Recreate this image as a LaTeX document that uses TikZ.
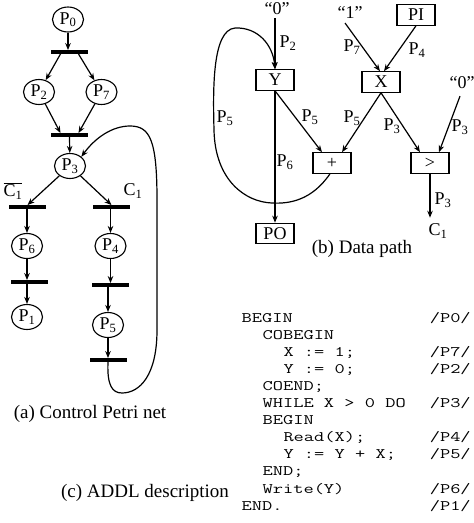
\documentclass[tikz,border=0pt]{standalone}
\usepackage{fontspec}
\setmainfont{Liberation Serif}
\usepackage{graphicx}
\usetikzlibrary{shapes.geometric,arrows.meta}
\newcommand\mycode[1]{\scalebox{1.37}[1]{#1}}
\begin{document}
\begin{tikzpicture}[x=1pt,y=-1pt,
  lbl/.style={font=\fontsize{18}{20}\selectfont, inner sep=0},
  place/.style={ellipse, draw, line width=1.1pt, minimum width=31pt, minimum height=25pt, inner sep=0, font=\fontsize{18}{20}\selectfont},
  trans/.style={rectangle, fill=black, minimum width=37pt, minimum height=3.5pt, inner sep=0},
  arc/.style={line width=1.2pt, -{Stealth[length=7pt,width=5.5pt]}},
  box/.style={rectangle, draw, line width=1.1pt, minimum width=38pt, minimum height=20.5pt, inner sep=0, font=\fontsize{18}{20}\selectfont},
  capt/.style={font=\fontsize{19}{21}\selectfont, inner sep=0, anchor=base},
  code/.style={anchor=base west, inner sep=0, font=\fontsize{14.5}{16}\ttfamily},
]
\useasboundingbox (0,0) rectangle (474,523);
% ---------- (a) Control Petri net
\node[place] (P0) at (68,19.5) {P\textsubscript{0}};
\node[trans] (t1) at (69.5,52) {};
\node[place] (P2) at (39,92) {P\textsubscript{2}};
\node[place] (P7) at (101.5,92) {P\textsubscript{7}};
\node[trans] (t2) at (69.5,135) {};
\node[place] (P3) at (70,166) {P\textsubscript{3}};
\node[trans] (t3) at (27.5,207) {};
\node[trans] (t4) at (111.5,207) {};
\node[place] (P6) at (27,246) {P\textsubscript{6}};
\node[place] (P4) at (110.5,246) {P\textsubscript{4}};
\node[trans] (t5) at (29.5,282) {};
\node[place] (P1) at (27,317) {P\textsubscript{1}};
\node[trans] (t6) at (110.5,285) {};
\node[place] (P5) at (108,325) {P\textsubscript{5}};
\node[trans] (t7) at (108.5,360) {};
\node[lbl] (nc1) at (13,191) {$\overline{\mbox{C\textsubscript{1}}}$};
\node[lbl] (c1) at (133,191) {C\textsubscript{1}};

\draw[arc] (P0) -- (P0 |- t1.north);
\draw[arc] ([xshift=-9pt]t1.south) -- (P2);
\draw[arc] ([xshift=9pt]t1.south) -- (P7);
\draw[arc] (P2) -- ([xshift=-9pt]t2.north);
\draw[arc] (P7) -- ([xshift=9pt]t2.north);
\draw[arc] (t2.south) -- (P3);
\draw[arc] (P3) -- (t3.north);
\draw[arc] (P3) -- (t4.north);
\draw[arc] (t3.south -| P6) -- (P6);
\draw[arc] (t4.south -| P4) -- (P4);
\draw[arc] (P6) -- (P6 |- t5.north);
\draw[arc] (t5.south -| P1) -- (P1);
\draw[arc] (P4) -- (P4 |- t6.north);
\draw[arc] (t6.south -| P5) -- (P5);
\draw[arc] (P5) -- (P5 |- t7.north);
\draw[arc] (t7.south -| P5) .. controls (107,385) and (112,393) .. (122,393)
  .. controls (140,393) and (157,375) .. (157,330) -- (157,200)
  .. controls (157,140) and (150,126) .. (130,126)
  .. controls (112,126) and (95,138) .. (P3.north east);

% ---------- (b) Data path
\node[lbl, anchor=base, outer ysep=4pt] (q0a) at (277,14) {“0”};
\node[box] (Y) at (275,80) {Y};
\node[lbl, anchor=base, outer ysep=5pt] (q1) at (350,18) {“1”};
\node[box] (PI) at (416,15) {PI};
\node[box] (X) at (381,82) {X};
\node[lbl, anchor=base, outer ysep=8pt] (q0b) at (462,88) {“0”};
\node[box] (plus) at (332,163) {+};
\node[box] (gt) at (430,163) {>};
\node[box] (PO) at (275,233.5) {PO};
\node[lbl, outer ysep=6pt] (C1out) at (438,231) {C\textsubscript{1}};

\draw[arc] (q0a.south -| Y.north) -- (Y.north);
\draw[arc] ([xshift=-5pt]q1.south) -- ([xshift=-1pt]X.north);
\draw[arc] (PI.south) -- ([xshift=3pt]X.north);
\draw[arc] (Y.south) -- ([xshift=-10pt]plus.north);
\draw[arc] (Y.south) -- (PO.north);
\draw[arc] (X.south) -- ([xshift=10pt]plus.north);
\draw[arc] (X.south) -- ([xshift=-10pt]gt.north);
\draw[arc] ([xshift=-2pt]q0b.south) -- ([xshift=9pt]gt.north);
\draw[arc] (gt.south) -- (gt.south |- C1out.north);
\draw[arc] ([xshift=-2pt]plus.south) .. controls (312,200) and (290,204) .. (272,203)
  .. controls (245,202) and (215,180) .. (214,130)
  .. controls (213,90) and (212,30) .. (235,28)
  .. controls (258,27) and (273,45) .. (Y.north);

\node[lbl] (lP2) at (288,43) {P\textsubscript{2}};
\node[lbl] (lP7) at (352,47) {P\textsubscript{7}};
\node[lbl] (lP4) at (417,50) {P\textsubscript{4}};
\node[lbl] (lP5a) at (225,118) {P\textsubscript{5}};
\node[lbl] (lP5b) at (310,117) {P\textsubscript{5}};
\node[lbl] (lP5c) at (352,118) {P\textsubscript{5}};
\node[lbl] (lP3a) at (392,126) {P\textsubscript{3}};
\node[lbl] (lP3b) at (460,127) {P\textsubscript{3}};
\node[lbl] (lP6) at (285,162) {P\textsubscript{6}};
\node[lbl] (lP3c) at (443,200) {P\textsubscript{3}};

% ---------- captions
\node[capt] (capa) at (90,418) {(a) Control Petri net};
\node[capt] (capb) at (362,253) {(b) Data path};
\node[capt] (capc) at (145,497) {(c) ADDL description};

% ---------- (c) ADDL code
\node[code] (c0)  at (241.5,322)   {\mycode{BEGIN}};
\node[code] (r0)  at (429.6,322)   {\mycode{/P0/}};
\node[code] (c1l) at (262.4,339.1) {\mycode{COBEGIN}};
\node[code] (c2)  at (283.3,356.2) {\mycode{X := 1;}};
\node[code] (r2)  at (429.6,356.2) {\mycode{/P7/}};
\node[code] (c3)  at (283.3,373.3) {\mycode{Y := 0;}};
\node[code] (r3)  at (429.6,373.3) {\mycode{/P2/}};
\node[code] (c4)  at (262.4,390.4) {\mycode{COEND;}};
\node[code] (c5)  at (262.4,407.5) {\mycode{WHILE X > 0 DO}};
\node[code] (r5)  at (429.6,407.5) {\mycode{/P3/}};
\node[code] (c6)  at (262.4,424.6) {\mycode{BEGIN}};
\node[code] (c7)  at (283.3,441.7) {\mycode{Read(X);}};
\node[code] (r7)  at (429.6,441.7) {\mycode{/P4/}};
\node[code] (c8)  at (283.3,458.8) {\mycode{Y := Y + X;}};
\node[code] (r8)  at (429.6,458.8) {\mycode{/P5/}};
\node[code] (c9)  at (262.4,475.9) {\mycode{END;}};
\node[code] (c10) at (262.4,493)   {\mycode{Write(Y)}};
\node[code] (r10) at (429.6,493)   {\mycode{/P6/}};
\node[code] (c11) at (241.5,510.1) {\mycode{END.}};
\node[code] (r11) at (429.6,510.1) {\mycode{/P1/}};
\end{tikzpicture}
\end{document}
